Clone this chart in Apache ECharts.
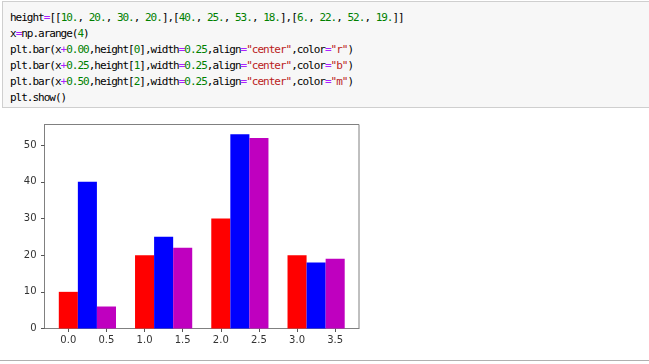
<!DOCTYPE html>
<html>
<head>
<meta charset="utf-8">
<script src="https://cdn.jsdelivr.net/npm/echarts@6/dist/echarts.min.js"></script>
<style>
html,body{margin:0;padding:0;background:#fff;width:649px;height:364px;overflow:hidden;position:relative;}
#code{position:absolute;left:2px;top:1px;width:660px;height:107px;background:#f7f7f7;border:1px solid #cfcfcf;box-sizing:border-box;}
#code pre{margin:0;position:absolute;left:7px;top:8px;font-family:"DejaVu Sans Mono",monospace;font-size:11px;letter-spacing:-1px;line-height:16px;color:#000;}
.n{color:#008000}.o{color:#aa22ff}.s{color:#ba2121}
#sep{position:absolute;left:0;top:360px;width:649px;height:1px;background:#b0b0b0;}
#chart{position:absolute;left:0;top:0;width:649px;height:364px;}
</style>
</head>
<body>
<div id="chart"></div>
<div id="code"><pre>height<span class="o">=</span>[[<span class="n">10.</span>, <span class="n">20.</span>, <span class="n">30.</span>, <span class="n">20.</span>],[<span class="n">40.</span>, <span class="n">25.</span>, <span class="n">53.</span>, <span class="n">18.</span>],[<span class="n">6.</span>, <span class="n">22.</span>, <span class="n">52.</span>, <span class="n">19.</span>]]
x<span class="o">=</span>np.arange(<span class="n">4</span>)
plt.bar(x<span class="o">+</span><span class="n">0.00</span>,height[<span class="n">0</span>],width<span class="o">=</span><span class="n">0.25</span>,align<span class="o">=</span><span class="s">"center"</span>,color<span class="o">=</span><span class="s">"r"</span>)
plt.bar(x<span class="o">+</span><span class="n">0.25</span>,height[<span class="n">1</span>],width<span class="o">=</span><span class="n">0.25</span>,align<span class="o">=</span><span class="s">"center"</span>,color<span class="o">=</span><span class="s">"b"</span>)
plt.bar(x<span class="o">+</span><span class="n">0.50</span>,height[<span class="n">2</span>],width<span class="o">=</span><span class="n">0.25</span>,align<span class="o">=</span><span class="s">"center"</span>,color<span class="o">=</span><span class="s">"m"</span>)
plt.show()</pre></div>
<div id="sep"></div>
<script>
const xBase = [0, 1, 2, 3];
const heightR = [10, 20, 30, 20];
const heightB = [40, 25, 53, 18];
const heightM = [6, 22, 52, 19];
const offsets = [0.00, 0.25, 0.50];
const barWidth = 0.25;
const colors = ['#ff0000', '#0000ff', '#bf00bf'];
const xTicks = [0.0, 0.5, 1.0, 1.5, 2.0, 2.5, 3.0, 3.5];
const yTicks = [0, 10, 20, 30, 40, 50];
const xMin = -0.3125, xMax = 3.8125;
const yMin = 0, yMax = 55.65;

const heights = [heightR, heightB, heightM];
const chart = echarts.init(document.getElementById('chart'), null, {renderer: 'canvas'});
const series = heights.map((h, s) => ({
  type: 'custom',
  data: xBase.map((x, i) => [x + offsets[s], h[i]]),
  encode: {x: 0, y: 1},
  renderItem: function (params, api) {
    const x = api.value(0), v = api.value(1);
    const p1 = api.coord([x - barWidth / 2, v]);
    const p2 = api.coord([x + barWidth / 2, 0]);
    return {type: 'rect', shape: {x: p1[0], y: p1[1], width: p2[0] - p1[0], height: p2[1] - p1[1]}, style: {fill: colors[s]}};
  },
  z: 2
}));
const axisFont = {fontFamily: 'DejaVu Sans', fontSize: 10, color: '#333'};
chart.setOption({
  animation: false,
  grid: {left: 44.5, right: 290, top: 124.5, bottom: 35.5, show: true, borderColor: '#808080', borderWidth: 1, backgroundColor: '#fff'},
  xAxis: {
    type: 'value', min: xMin, max: xMax,
    splitLine: {show: false},
    axisLine: {show: true, onZero: false, lineStyle: {color: '#808080', width: 1}},
    axisTick: {show: true, customValues: xTicks, length: 3.5, lineStyle: {color: '#555'}},
    axisLabel: Object.assign({customValues: xTicks, margin: 7, formatter: v => v.toFixed(1)}, axisFont)
  },
  yAxis: {
    type: 'value', min: yMin, max: yMax,
    splitLine: {show: false},
    axisLine: {show: true, onZero: false, lineStyle: {color: '#808080', width: 1}},
    axisTick: {show: true, customValues: yTicks, length: 3.5, lineStyle: {color: '#555'}},
    axisLabel: Object.assign({customValues: yTicks, margin: 8, formatter: v => String(v)}, axisFont)
  },
  series: series
});
</script>
</body>
</html>
